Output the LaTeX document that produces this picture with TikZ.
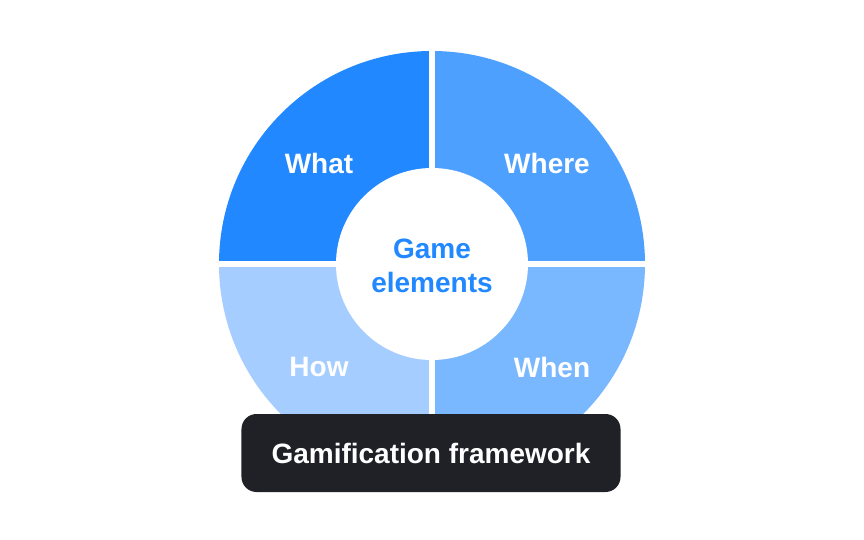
\documentclass[tikz,border=0pt]{standalone}
\usepackage{fontspec}
\setmainfont{Liberation Sans}
\definecolor{cWhat}{HTML}{2188FF}
\definecolor{cWhere}{HTML}{4EA0FF}
\definecolor{cWhen}{HTML}{79B8FF}
\definecolor{cHow}{HTML}{A5CDFF}
\definecolor{cDark}{HTML}{202127}
\tikzset{
  quad/.style={draw=none},
  qlabel/.style={text=white,font=\bfseries\fontsize{28}{31}\selectfont,inner sep=0pt},
  clabel/.style={text=cWhat,font=\bfseries\fontsize{28}{31}\selectfont,inner sep=0pt},
  framebox/.style={fill=cDark,rounded corners=15pt,minimum width=379pt,minimum height=78pt,inner sep=0pt,text=white,font=\bfseries\fontsize{28}{31}\selectfont}
}
\begin{document}
\begin{tikzpicture}[x=1pt,y=1pt]
\useasboundingbox[fill=white] (-432,-276) rectangle (432,264);
\coordinate (O) at (0,0);
\fill[cWhat]  (O) -- (180:213pt) arc[start angle=180,end angle=90,radius=213pt] -- cycle;
\fill[cWhere] (O) -- (90:213pt) arc[start angle=90,end angle=0,radius=213pt] -- cycle;
\fill[cWhen]  (O) -- (0:213pt) arc[start angle=0,end angle=-90,radius=213pt] -- cycle;
\fill[cHow]   (O) -- (-90:213pt) arc[start angle=-90,end angle=-180,radius=213pt] -- cycle;
\draw[white,line width=6pt] (-220,0) -- (220,0);
\draw[white,line width=6pt] (0,-220) -- (0,220);
\fill[white] (O) circle[radius=96pt];
\node[qlabel] (what) at (-113,101) {What};
\node[qlabel] (where) at (115,101) {Where};
\node[qlabel] (how) at (-113,-103) {How};
\node[qlabel] (when) at (120,-103) {When};
\node[clabel] (game) at (0,15) {Game};
\node[clabel] (elem) at (0,-18) {elements};
\node[framebox] (frame) at (-1,-189) {Gamification framework};
\end{tikzpicture}
\end{document}
